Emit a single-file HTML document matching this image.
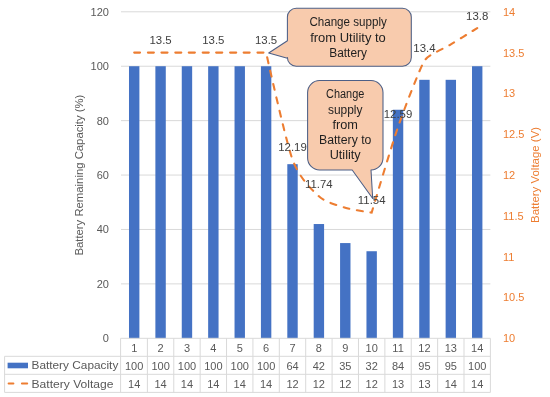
<!DOCTYPE html>
<html><head><meta charset="utf-8"><title>Battery chart</title>
<style>html,body{margin:0;padding:0;background:#fff}svg{display:block}</style></head>
<body>
<svg width="550" height="397" viewBox="0 0 550 397" font-family="Liberation Sans, sans-serif">
<rect width="550" height="397" fill="#fff"/>
<line x1="121.0" x2="490.4" y1="283.88" y2="283.88" stroke="#d9d9d9" stroke-width="1"/>
<line x1="121.0" x2="490.4" y1="229.47" y2="229.47" stroke="#d9d9d9" stroke-width="1"/>
<line x1="121.0" x2="490.4" y1="175.05" y2="175.05" stroke="#d9d9d9" stroke-width="1"/>
<line x1="121.0" x2="490.4" y1="120.63" y2="120.63" stroke="#d9d9d9" stroke-width="1"/>
<line x1="121.0" x2="490.4" y1="66.22" y2="66.22" stroke="#d9d9d9" stroke-width="1"/>
<line x1="121.0" x2="490.4" y1="11.80" y2="11.80" stroke="#d9d9d9" stroke-width="1"/>
<rect x="128.99" y="66.22" width="10.4" height="272.08" fill="#4472c4"/>
<rect x="155.38" y="66.22" width="10.4" height="272.08" fill="#4472c4"/>
<rect x="181.76" y="66.22" width="10.4" height="272.08" fill="#4472c4"/>
<rect x="208.15" y="66.22" width="10.4" height="272.08" fill="#4472c4"/>
<rect x="234.54" y="66.22" width="10.4" height="272.08" fill="#4472c4"/>
<rect x="260.92" y="66.22" width="10.4" height="272.08" fill="#4472c4"/>
<rect x="287.31" y="164.17" width="10.4" height="174.13" fill="#4472c4"/>
<rect x="313.69" y="224.03" width="10.4" height="114.27" fill="#4472c4"/>
<rect x="340.08" y="243.07" width="10.4" height="95.23" fill="#4472c4"/>
<rect x="366.46" y="251.23" width="10.4" height="87.07" fill="#4472c4"/>
<rect x="392.85" y="109.75" width="10.4" height="228.55" fill="#4472c4"/>
<rect x="419.24" y="79.82" width="10.4" height="258.48" fill="#4472c4"/>
<rect x="445.62" y="79.82" width="10.4" height="258.48" fill="#4472c4"/>
<rect x="472.01" y="66.22" width="10.4" height="272.08" fill="#4472c4"/>
<line x1="120.6" x2="490.4" y1="338.3" y2="338.3" stroke="#d9d9d9"/>
<line x1="4.6" x2="490.4" y1="356.3" y2="356.3" stroke="#d9d9d9"/>
<line x1="4.6" x2="490.4" y1="374.3" y2="374.3" stroke="#d9d9d9"/>
<line x1="4.6" x2="490.4" y1="392.4" y2="392.4" stroke="#d9d9d9"/>
<line x1="4.6" x2="4.6" y1="356.3" y2="392.4" stroke="#d9d9d9"/>
<line x1="120.60" x2="120.60" y1="338.3" y2="392.4" stroke="#d9d9d9"/>
<line x1="147.39" x2="147.39" y1="338.3" y2="392.4" stroke="#d9d9d9"/>
<line x1="173.77" x2="173.77" y1="338.3" y2="392.4" stroke="#d9d9d9"/>
<line x1="200.16" x2="200.16" y1="338.3" y2="392.4" stroke="#d9d9d9"/>
<line x1="226.54" x2="226.54" y1="338.3" y2="392.4" stroke="#d9d9d9"/>
<line x1="252.93" x2="252.93" y1="338.3" y2="392.4" stroke="#d9d9d9"/>
<line x1="279.31" x2="279.31" y1="338.3" y2="392.4" stroke="#d9d9d9"/>
<line x1="305.70" x2="305.70" y1="338.3" y2="392.4" stroke="#d9d9d9"/>
<line x1="332.09" x2="332.09" y1="338.3" y2="392.4" stroke="#d9d9d9"/>
<line x1="358.47" x2="358.47" y1="338.3" y2="392.4" stroke="#d9d9d9"/>
<line x1="384.86" x2="384.86" y1="338.3" y2="392.4" stroke="#d9d9d9"/>
<line x1="411.24" x2="411.24" y1="338.3" y2="392.4" stroke="#d9d9d9"/>
<line x1="437.63" x2="437.63" y1="338.3" y2="392.4" stroke="#d9d9d9"/>
<line x1="464.01" x2="464.01" y1="338.3" y2="392.4" stroke="#d9d9d9"/>
<line x1="490.40" x2="490.40" y1="338.3" y2="392.4" stroke="#d9d9d9"/>
<text x="108.90" y="342.20" text-anchor="end" fill="#595959" font-size="11" >0</text>
<text x="108.90" y="287.78" text-anchor="end" fill="#595959" font-size="11" >20</text>
<text x="108.90" y="233.37" text-anchor="end" fill="#595959" font-size="11" >40</text>
<text x="108.90" y="178.95" text-anchor="end" fill="#595959" font-size="11" >60</text>
<text x="108.90" y="124.53" text-anchor="end" fill="#595959" font-size="11" >80</text>
<text x="108.90" y="70.12" text-anchor="end" fill="#595959" font-size="11" >100</text>
<text x="108.90" y="15.70" text-anchor="end" fill="#595959" font-size="11" >120</text>
<text x="503.00" y="342.20" text-anchor="start" fill="#ed7d31" font-size="11" >10</text>
<text x="503.00" y="301.39" text-anchor="start" fill="#ed7d31" font-size="11" >10.5</text>
<text x="503.00" y="260.57" text-anchor="start" fill="#ed7d31" font-size="11" >11</text>
<text x="503.00" y="219.76" text-anchor="start" fill="#ed7d31" font-size="11" >11.5</text>
<text x="503.00" y="178.95" text-anchor="start" fill="#ed7d31" font-size="11" >12</text>
<text x="503.00" y="138.14" text-anchor="start" fill="#ed7d31" font-size="11" >12.5</text>
<text x="503.00" y="97.33" text-anchor="start" fill="#ed7d31" font-size="11" >13</text>
<text x="503.00" y="56.51" text-anchor="start" fill="#ed7d31" font-size="11" >13.5</text>
<text x="503.00" y="15.70" text-anchor="start" fill="#ed7d31" font-size="11" >14</text>
<text x="134.19" y="351.50" text-anchor="middle" fill="#595959" font-size="11" >1</text>
<text x="134.19" y="369.70" text-anchor="middle" fill="#595959" font-size="11" >100</text>
<text x="134.19" y="388.00" text-anchor="middle" fill="#595959" font-size="11" >14</text>
<text x="160.58" y="351.50" text-anchor="middle" fill="#595959" font-size="11" >2</text>
<text x="160.58" y="369.70" text-anchor="middle" fill="#595959" font-size="11" >100</text>
<text x="160.58" y="388.00" text-anchor="middle" fill="#595959" font-size="11" >14</text>
<text x="186.96" y="351.50" text-anchor="middle" fill="#595959" font-size="11" >3</text>
<text x="186.96" y="369.70" text-anchor="middle" fill="#595959" font-size="11" >100</text>
<text x="186.96" y="388.00" text-anchor="middle" fill="#595959" font-size="11" >14</text>
<text x="213.35" y="351.50" text-anchor="middle" fill="#595959" font-size="11" >4</text>
<text x="213.35" y="369.70" text-anchor="middle" fill="#595959" font-size="11" >100</text>
<text x="213.35" y="388.00" text-anchor="middle" fill="#595959" font-size="11" >14</text>
<text x="239.74" y="351.50" text-anchor="middle" fill="#595959" font-size="11" >5</text>
<text x="239.74" y="369.70" text-anchor="middle" fill="#595959" font-size="11" >100</text>
<text x="239.74" y="388.00" text-anchor="middle" fill="#595959" font-size="11" >14</text>
<text x="266.12" y="351.50" text-anchor="middle" fill="#595959" font-size="11" >6</text>
<text x="266.12" y="369.70" text-anchor="middle" fill="#595959" font-size="11" >100</text>
<text x="266.12" y="388.00" text-anchor="middle" fill="#595959" font-size="11" >14</text>
<text x="292.51" y="351.50" text-anchor="middle" fill="#595959" font-size="11" >7</text>
<text x="292.51" y="369.70" text-anchor="middle" fill="#595959" font-size="11" >64</text>
<text x="292.51" y="388.00" text-anchor="middle" fill="#595959" font-size="11" >12</text>
<text x="318.89" y="351.50" text-anchor="middle" fill="#595959" font-size="11" >8</text>
<text x="318.89" y="369.70" text-anchor="middle" fill="#595959" font-size="11" >42</text>
<text x="318.89" y="388.00" text-anchor="middle" fill="#595959" font-size="11" >12</text>
<text x="345.28" y="351.50" text-anchor="middle" fill="#595959" font-size="11" >9</text>
<text x="345.28" y="369.70" text-anchor="middle" fill="#595959" font-size="11" >35</text>
<text x="345.28" y="388.00" text-anchor="middle" fill="#595959" font-size="11" >12</text>
<text x="371.66" y="351.50" text-anchor="middle" fill="#595959" font-size="11" >10</text>
<text x="371.66" y="369.70" text-anchor="middle" fill="#595959" font-size="11" >32</text>
<text x="371.66" y="388.00" text-anchor="middle" fill="#595959" font-size="11" >12</text>
<text x="398.05" y="351.50" text-anchor="middle" fill="#595959" font-size="11" >11</text>
<text x="398.05" y="369.70" text-anchor="middle" fill="#595959" font-size="11" >84</text>
<text x="398.05" y="388.00" text-anchor="middle" fill="#595959" font-size="11" >13</text>
<text x="424.44" y="351.50" text-anchor="middle" fill="#595959" font-size="11" >12</text>
<text x="424.44" y="369.70" text-anchor="middle" fill="#595959" font-size="11" >95</text>
<text x="424.44" y="388.00" text-anchor="middle" fill="#595959" font-size="11" >13</text>
<text x="450.82" y="351.50" text-anchor="middle" fill="#595959" font-size="11" >13</text>
<text x="450.82" y="369.70" text-anchor="middle" fill="#595959" font-size="11" >95</text>
<text x="450.82" y="388.00" text-anchor="middle" fill="#595959" font-size="11" >14</text>
<text x="477.21" y="351.50" text-anchor="middle" fill="#595959" font-size="11" >14</text>
<text x="477.21" y="369.70" text-anchor="middle" fill="#595959" font-size="11" >100</text>
<text x="477.21" y="388.00" text-anchor="middle" fill="#595959" font-size="11" >14</text>
<rect x="7.6" y="362.7" width="20.4" height="5.6" fill="#4472c4"/>
<path d="M8.6 383.4H13.4M21.9 383.4H27.2" stroke="#ed7d31" stroke-width="2" stroke-linecap="round" fill="none"/>
<text x="31.5" y="369.4" fill="#595959" font-size="11.5" textLength="86.8" lengthAdjust="spacingAndGlyphs">Battery Capacity</text>
<text x="31.5" y="387.6" fill="#595959" font-size="11.5" textLength="82" lengthAdjust="spacingAndGlyphs">Battery Voltage</text>
<text transform="translate(82.7,175.1) rotate(-90)" text-anchor="middle" fill="#595959" font-size="11.5" textLength="161" lengthAdjust="spacingAndGlyphs">Battery Remaining Capacity (%)</text>
<text transform="translate(539.4,174.9) rotate(-90)" text-anchor="middle" fill="#ed7d31" font-size="11.5" textLength="96" lengthAdjust="spacingAndGlyphs">Battery Voltage (V)</text>
<path d="M134.19 52.61C137.62 52.61 153.72 52.61 160.58 52.61C167.44 52.61 180.10 52.61 186.96 52.61C193.82 52.61 206.49 52.61 213.35 52.61C220.21 52.61 232.88 52.61 239.74 52.61C246.60 52.61 266.12 52.61 266.12 52.61C266.12 52.61 285.65 140.87 292.51 159.54C299.37 178.22 312.03 190.01 318.89 196.27C325.75 202.53 338.42 205.58 345.28 207.70C352.14 209.82 371.66 212.60 371.66 212.60C371.66 212.60 391.19 146.63 398.05 126.89C404.91 107.15 420.32 67.21 424.44 60.77C428.55 54.34 443.96 48.69 450.82 44.45C457.68 40.21 473.78 30.25 477.21 28.12" fill="none" stroke="#ed7d31" stroke-width="2.1" stroke-linecap="round" stroke-dasharray="6 7.69"/>
<text x="160.58" y="44.01" text-anchor="middle" fill="#404040" font-size="11.4" >13.5</text>
<text x="213.35" y="44.01" text-anchor="middle" fill="#404040" font-size="11.4" >13.5</text>
<text x="266.12" y="44.01" text-anchor="middle" fill="#404040" font-size="11.4" >13.5</text>
<text x="292.51" y="150.94" text-anchor="middle" fill="#404040" font-size="11.4" >12.19</text>
<text x="318.89" y="187.67" text-anchor="middle" fill="#404040" font-size="11.4" >11.74</text>
<text x="371.66" y="204.00" text-anchor="middle" fill="#404040" font-size="11.4" >11.54</text>
<text x="398.05" y="118.29" text-anchor="middle" fill="#404040" font-size="11.4" >12.59</text>
<text x="424.44" y="52.17" text-anchor="middle" fill="#404040" font-size="11.4" >13.4</text>
<text x="477.21" y="19.52" text-anchor="middle" fill="#404040" font-size="11.4" >13.8</text>
<path d="M296.2 8.2H402.5A8.8 8.8 0 0 1 411.3 17.0V57.5A8.8 8.8 0 0 1 402.5 66.3H296.2A8.8 8.8 0 0 1 287.4 57.5V58.2L268.7 53L287.4 40.7V17.0A8.8 8.8 0 0 1 296.2 8.2Z" fill="#f8cbad" stroke="#4d5f86" stroke-width="1.05" stroke-linejoin="round"/>
<path d="M319.6 80.5H371.0A12 12 0 0 1 383.0 92.5V158.0A12 12 0 0 1 371.0 170.0L372.7 198.5L352.2 170.0H319.6A12 12 0 0 1 307.6 158.0V92.5A12 12 0 0 1 319.6 80.5Z" fill="#f8cbad" stroke="#4d5f86" stroke-width="1.05" stroke-linejoin="round"/>
<text x="348.1" y="26.2" text-anchor="middle" fill="#1f1f1f" font-size="12.3" textLength="77.4" lengthAdjust="spacingAndGlyphs">Change supply</text>
<text x="348.0" y="41.6" text-anchor="middle" fill="#1f1f1f" font-size="12.3" textLength="75.6" lengthAdjust="spacingAndGlyphs">from Utility to</text>
<text x="348.1" y="57.0" text-anchor="middle" fill="#1f1f1f" font-size="12.3" textLength="37.8" lengthAdjust="spacingAndGlyphs">Battery</text>
<text x="345.2" y="98.2" text-anchor="middle" fill="#1f1f1f" font-size="12.3" textLength="38.3" lengthAdjust="spacingAndGlyphs">Change</text>
<text x="345.2" y="113.5" text-anchor="middle" fill="#1f1f1f" font-size="12.3" textLength="34.5" lengthAdjust="spacingAndGlyphs">supply</text>
<text x="345.2" y="128.7" text-anchor="middle" fill="#1f1f1f" font-size="12.3" textLength="25.5" lengthAdjust="spacingAndGlyphs">from</text>
<text x="345.2" y="143.8" text-anchor="middle" fill="#1f1f1f" font-size="12.3" textLength="52.4" lengthAdjust="spacingAndGlyphs">Battery to</text>
<text x="345.2" y="159.1" text-anchor="middle" fill="#1f1f1f" font-size="12.3" textLength="31" lengthAdjust="spacingAndGlyphs">Utility</text>
</svg>
</body></html>
